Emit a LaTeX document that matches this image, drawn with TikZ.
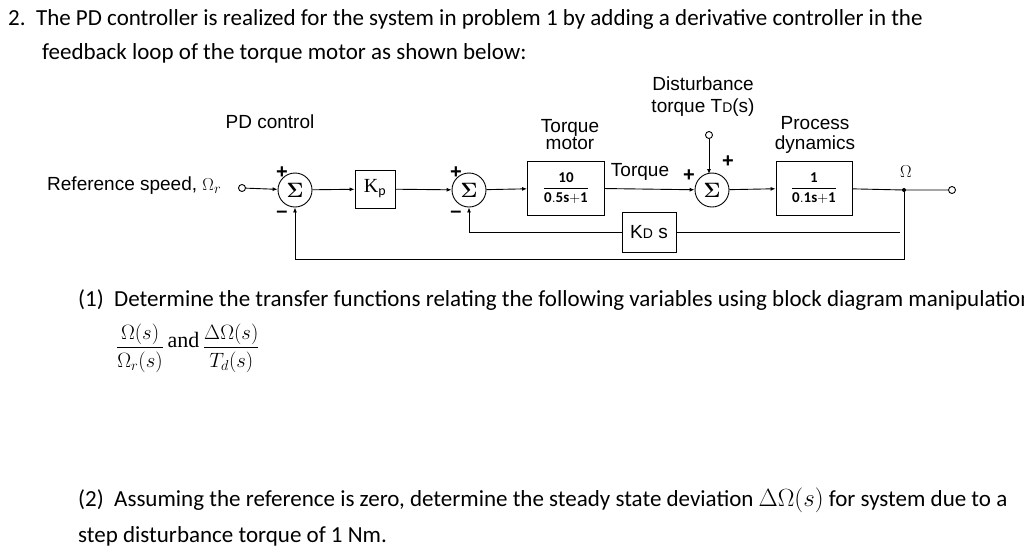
\documentclass[tikz,border=0pt]{standalone}
\usepackage{amsmath}
\usepackage{bm}
\usepackage{fontspec}
\setmainfont{Carlito}
\newfontfamily\dsans{Liberation Sans}
\newfontfamily\dserif{Liberation Serif}
\usetikzlibrary{arrows.meta}
\begin{document}
\begin{tikzpicture}[x=1pt,y=-1pt,
  sumn/.style={circle,draw,line width=0.9pt,minimum size=34pt,inner sep=0pt,font=\fontsize{20}{20}\selectfont},
  blk/.style={draw,line width=0.9pt,inner sep=0pt},
  lbl/.style={font=\dsans\fontsize{19}{20}\selectfont,align=center},
  sg/.style={font=\dsans\fontsize{20}{20}\selectfont\bfseries,inner sep=0pt},
  txt/.style={anchor=west,inner sep=0pt,font=\fontsize{23}{27}\selectfont},
  ar/.style={-{Latex[length=5pt,width=4pt]},line width=0.9pt},
  ln/.style={line width=0.9pt},
  oc/.style={circle,draw,line width=0.9pt,minimum size=7pt,inner sep=0pt}]
\useasboundingbox (0,0) rectangle (1024,557);
\node[txt] (t1) at (8,19) {2.\ \ The PD controller is realized for the system in problem 1 by adding a derivative controller in the};
\node[txt] (t2) at (42,53) {feedback loop of the torque motor as shown below:};
% diagram
\node[lbl,anchor=west,inner sep=0pt] (ref) at (47,186) {Reference speed, $\Omega_r$};
\node[oc] (in) at (242,188) {};
\node[sumn] (s1) at (295,190) {$\bm{\Sigma}$};
\node[blk,minimum width=40pt,minimum height=38pt,font=\dserif\fontsize{20}{20}\selectfont] (kp) at (375,189) {K$_{\mathrm p}$};
\node[sumn] (s2) at (469,190) {$\bm{\Sigma}$};
\node[blk,minimum width=77pt,minimum height=54pt,font=\fontsize{15}{15}\selectfont] (tm) at (566,188) {$\dfrac{\mathbf{10}}{\mathbf{0.5s{+}1}}$};
\node[sumn] (s3) at (712,190) {$\bm{\Sigma}$};
\node[blk,minimum width=76pt,minimum height=54pt,font=\fontsize{15}{15}\selectfont] (pd) at (814,188) {$\dfrac{\mathbf{1}}{\mathbf{0.1s{+}1}}$};
\node[oc] (dist) at (709,135) {};
\node[oc] (out) at (952,190) {};
\coordinate (j) at (904,190);
\node[blk,minimum width=54pt,minimum height=40pt,font=\dsans\fontsize{19}{19}\selectfont] (kd) at (649,232) {K{\fontsize{14}{14}\selectfont D} s};
\node[lbl] (pdc) at (270,122) {PD control};
\node[lbl,inner sep=0pt,font=\dsans\fontsize{19}{17}\selectfont] (tml) at (570,135) {Torque\\motor};
\node[lbl,inner sep=0pt,font=\dsans\fontsize{19}{22}\selectfont] (dl) at (703,97) {Disturbance\\torque T{\fontsize{14}{14}\selectfont D}(s)};
\node[lbl,inner sep=0pt] (pl) at (815,135) {Process\\dynamics};
\node[lbl,inner sep=0pt] (om) at (906,172) {$\Omega$};
\node[lbl,inner sep=0pt] (tq) at (640,172) {Torque};
% signs
\node[sg] at (282,173) {+};
\node[sg] at (282,214) {–};
\node[sg] at (456,173) {+};
\node[sg] at (456,214) {–};
\node[sg] at (689,176) {+};
\node[sg] at (728,162) {+};
% connectors
\draw[ar] (in) -- (s1);
\draw[ar] (s1) -- (kp);
\draw[ar] (kp) -- (s2);
\draw[ar] (s2) -- (tm);
\draw[ar] (tm) -- (s3);
\draw[ar] (dist) -- (709,174);
\draw[ar] (s3) -- (pd);
\draw[ln] (pd) -- (j) -- (out);
\fill (j) circle (2pt);
\draw[ar] (j) -- (904,259) -| (s1.south);
\draw[ln] (900,232) -- (kd.east);
\draw[ar] (kd.west) -| (s2.south);
% questions
\node[txt] (q1) at (78,300) {(1)\ \ Determine the transfer functions relating the following variables using block diagram manipulation.};
\node[anchor=west,inner sep=0pt,font=\fontsize{22}{22}\selectfont] (fr) at (116,348) {$\dfrac{\Omega(s)}{\Omega_r(s)}$\,\raisebox{6pt}{\dserif and}\,$\dfrac{\Delta\Omega(s)}{T_d(s)}$};
\node[txt] (q2) at (78,500) {(2)\ \ Assuming the reference is zero, determine the steady state deviation $\Delta\Omega(s)$ for system due to a};
\node[txt] (q3) at (78,536) {step disturbance torque of 1 Nm.};
\end{tikzpicture}
\end{document}
